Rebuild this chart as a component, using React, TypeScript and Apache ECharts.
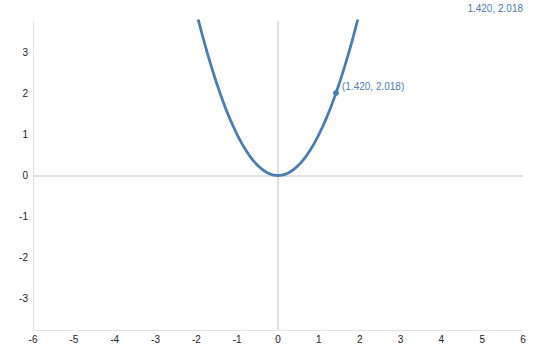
import React, { useEffect, useRef } from "react";
import * as echarts from "echarts";

const curveX = [
  -2.0, -1.9, -1.8, -1.7, -1.6, -1.5, -1.4, -1.3, -1.2, -1.1, -1.0, -0.9, -0.8, -0.7, -0.6, -0.5, -0.4, -0.3, -0.2, -0.1,
  0.0, 0.1, 0.2, 0.3, 0.4, 0.5, 0.6, 0.7, 0.8, 0.9, 1.0, 1.1, 1.2, 1.3, 1.4, 1.5, 1.6, 1.7, 1.8, 1.9, 2.0,
];
const curveY = [
  4.0, 3.61, 3.24, 2.89, 2.56, 2.25, 1.96, 1.69, 1.44, 1.21, 1.0, 0.81, 0.64, 0.49, 0.36, 0.25, 0.16, 0.09, 0.04, 0.01,
  0.0, 0.01, 0.04, 0.09, 0.16, 0.25, 0.36, 0.49, 0.64, 0.81, 1.0, 1.21, 1.44, 1.69, 1.96, 2.25, 2.56, 2.89, 3.24, 3.61, 4.0,
];
const pointX = 1.42;
const pointY = 2.018;
const xTicks = [-6, -5, -4, -3, -2, -1, 0, 1, 2, 3, 4, 5, 6];
const yTicks = [-3, -2, -1, 0, 1, 2, 3];

const BLUE = "#4a7db6";
const FONT = "Liberation Sans, Arial, sans-serif";

export default function App() {
  const ref = useRef<HTMLDivElement>(null);
  useEffect(() => {
    if (!ref.current) return;
    const chart = echarts.init(ref.current, undefined, { renderer: "svg" });
    const yMax = 3.78;
    chart.setOption({
      animation: false,
      grid: { left: 33, right: 16, top: 21, bottom: 22 },
      xAxis: {
        type: "value",
        min: xTicks[0],
        max: xTicks[xTicks.length - 1],
        interval: 1,
        axisLine: { onZero: false, lineStyle: { color: "#e3e3e3", width: 1 } },
        axisTick: { show: false },
        splitLine: { show: false },
        axisLabel: { color: "#222", fontSize: 10, fontFamily: FONT, margin: 4, showMinLabel: true, showMaxLabel: true },
      },
      yAxis: {
        type: "value",
        min: -yMax,
        max: yMax,
        axisLine: { show: true, onZero: false, lineStyle: { color: "#e3e3e3", width: 1 } },
        axisTick: { show: false },
        splitLine: { show: false },
        axisLabel: {
          color: "#222",
          fontSize: 10,
          fontFamily: FONT,
          margin: 5,
          customValues: yTicks,
        },
      },
      graphic: [
        {
          type: "text",
          right: 16,
          top: 3,
          style: { text: `${pointX.toFixed(3)}, ${pointY.toFixed(3)}`, fill: BLUE, fontSize: 10, fontFamily: FONT },
        },
      ],
      series: [
        {
          type: "line",
          data: curveX.map((x, i) => [x, curveY[i]]),
          showSymbol: false,
          smooth: true,
          clip: true,
          lineStyle: { color: BLUE, width: 2.8 },
          silent: true,
          z: 3,
          markLine: {
            silent: true,
            symbol: "none",
            label: { show: false },
            lineStyle: { color: "#e0e0e0", width: 2, type: "solid" },
            data: [{ xAxis: 0 }, { yAxis: 0 }],
            z: 1,
          },
        },
        {
          type: "scatter",
          data: [[pointX, pointY]],
          symbolSize: 6,
          itemStyle: { color: BLUE, opacity: 1 },
          z: 4,
          label: {
            show: true,
            position: "right",
            offset: [-2, -7],
            formatter: `(${pointX.toFixed(3)}, ${pointY.toFixed(3)})`,
            color: BLUE,
            opacity: 1,
            fontSize: 10,
            fontFamily: FONT,
          },
        },
      ],
    });
    return () => chart.dispose();
  }, []);
  return <div ref={ref} style={{ width: 539, height: 352, position: "absolute", left: 0, top: 0 }} />;
}
